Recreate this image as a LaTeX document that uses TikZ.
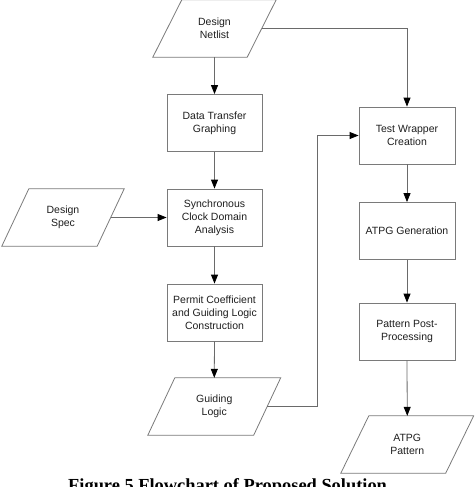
\documentclass[tikz,border=0pt]{standalone}
\usepackage{fontspec}
\setmainfont{Liberation Sans}
\newfontfamily\capfont{Liberation Serif}
\usetikzlibrary{arrows.meta}
\definecolor{boxgray}{HTML}{7A7A7A}
\definecolor{linegray}{HTML}{6A6A6A}
\definecolor{txt}{HTML}{1E1E1E}
\newcommand\mypgram[2]{\draw[pgline] ([xshift=-#2]#1.south west) -- ([xshift=-#2]#1.south east) -- ([xshift=#2]#1.north east) -- ([xshift=#2]#1.north west) -- cycle;}
\begin{document}
\begin{tikzpicture}[x=1pt,y=-1pt,
  txtfont/.style={font=\fontsize{10.5}{13}\selectfont, text=txt},
  box/.style={draw=boxgray, line width=0.8pt, minimum width=95pt, minimum height=57pt, align=center, inner sep=0pt, txtfont},
  pg/.style={minimum height=57pt, align=center, inner sep=0pt, txtfont},
  pgline/.style={draw=boxgray, line width=0.8pt, line join=miter},
  conn/.style={draw=linegray, line width=0.8pt, -{Triangle[length=9pt,width=7pt,color=black]}}]
\useasboundingbox (0,0) rectangle (474,487);
\clip (0,0) rectangle (474,487);
% left column
\node[pg, minimum width=94pt] (net) at (214.5,28.5) {Design\\Netlist};
\mypgram{net}{14.5pt}
\node[box] (dt) at (214.5,123) {Data Transfer\\Graphing};
\node[box] (sync) at (214.5,217.5) {Synchronous\\Clock Domain\\Analysis};
\node[box] (perm) at (214.5,312.5) {Permit Coefficient\\and Guiding Logic\\Construction};
\node[pg, minimum width=105.5pt] (gl) at (214.25,406.5) {Guiding\\Logic};
\mypgram{gl}{13.5pt}
\node[pg, minimum width=95pt] (spec) at (63,217.5) {Design\\Spec};
\mypgram{spec}{13.5pt}
% right column
\node[box, minimum width=96pt] (tw) at (407,135.5) {Test Wrapper\\Creation};
\node[box, minimum width=96pt] (gen) at (407,231) {ATPG Generation};
\node[box, minimum width=96pt] (ppp) at (407,331.5) {Pattern Post-\\Processing};
\node[pg, minimum width=104.5pt] (pat) at (407.25,444.5) {ATPG\\Pattern};
\mypgram{pat}{14pt}
\coordinate (gx) at (317,406.5);
% connectors
\draw[conn] (net.south) -- (dt.north);
\draw[conn] (net.east) -| (tw.north);
\draw[conn] (dt.south) -- (sync.north);
\draw[conn] (spec.east) -- (sync.west);
\draw[conn] (sync.south) -- (perm.north);
\draw[conn] (perm.south) -- (gl.north);
\draw[conn] (gl.east) -- (gx) |- (tw.west);
\draw[conn] (tw.south) -- (gen.north);
\draw[conn] (gen.south) -- (ppp.north);
\draw[conn] (ppp.south) -- (pat.north);
% caption
\node[anchor=base west, inner sep=0pt, font=\capfont\bfseries\fontsize{18.4}{20}\selectfont] (cap) at (68,491) {Figure 5 Flowchart of Proposed Solution};
\end{tikzpicture}
\end{document}
